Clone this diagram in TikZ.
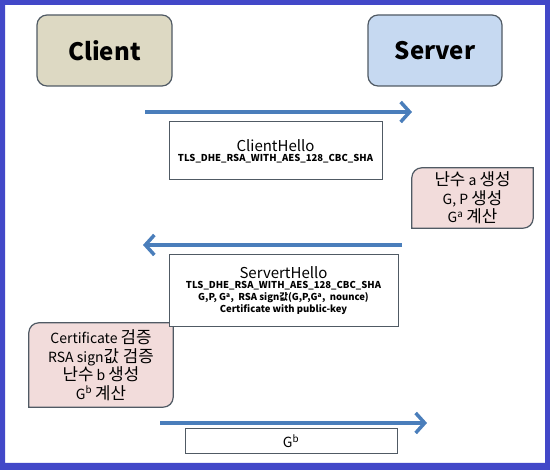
\documentclass[tikz,border=0pt]{standalone}
\usepackage{fontspec}
\setmainfont{Noto Sans CJK KR}
\newfontfamily\kr[Scale=1.2]{Noto Sans CJK KR}
\usetikzlibrary{arrows.meta, backgrounds}

\definecolor{frameblue}{RGB}{66,72,200}
\definecolor{clientfill}{RGB}{221,217,195}
\definecolor{serverfill}{RGB}{198,217,241}
\definecolor{notefill}{RGB}{242,220,219}
\definecolor{arrowblue}{RGB}{74,126,187}
\definecolor{edgegray}{RGB}{80,90,100}

\tikzset{
  party/.style={draw=edgegray, line width=1.2pt, rounded corners=10pt,
    minimum width=135pt, minimum height=71pt,
    font=\fontsize{24}{28}\selectfont\bfseries},
  msgbox/.style={draw=edgegray, line width=1pt, fill=white, align=center},
  note/.style={align=center, font=\fontsize{14}{18.5}\selectfont},
  flow/.style={arrowblue, line width=3.5pt, -{Straight Barb[length=9pt,width=20pt]}},
}

% pink box with two round corners (top left, bottom right)
\newcommand{\notebg}[1]{%
  \begin{scope}[on background layer]
    \draw[draw=edgegray, line width=1.2pt, fill=notefill]
      ([yshift=-10pt]#1.north west) arc[start angle=180, end angle=90, radius=10pt]
      -- (#1.north east) -- ([yshift=10pt]#1.south east)
      arc[start angle=0, end angle=-90, radius=10pt] -- (#1.south west) -- cycle;
  \end{scope}}

\newcommand{\msgdetail}{\fontsize{9.5}{11}\selectfont\bfseries}
\newcommand{\msgtitle}{\fontsize{15}{18}\selectfont}

\begin{document}
\begin{tikzpicture}[x=1pt, y=1pt]
    \fill[frameblue, even odd rule] (0,0) rectangle (550,470) (5,7) rectangle (545,465);
    \useasboundingbox (0,0) rectangle (550,470);

    \node[party, fill=clientfill] (client) at (104.5,419.5) {Client};
    \node[party, fill=serverfill, minimum width=134pt] (server) at (435,419.5) {Server};

    % ClientHello
    \coordinate (hello1 start) at (145,358);
    \coordinate (hello1 end) at (412,358);
    \draw[flow] (hello1 start) -- (hello1 end);
    \node[msgbox, minimum width=213pt, minimum height=58pt] (clienthello) at (275.5,319)
      {{\msgtitle ClientHello}\\[-2pt] {\msgdetail TLS\_DHE\_RSA\_WITH\_AES\_128\_CBC\_SHA}};

    \node[note, minimum width=121pt, minimum height=60pt] (servernote) at (472.5,272)
      {{\kr 난수} a {\kr 생성}\\ G, P {\kr 생성}\\ G\textsuperscript{a} {\kr 계산}};
    \notebg{servernote}

    % ServerHello
    \coordinate (hello2 start) at (402,225);
    \coordinate (hello2 end) at (143,225);
    \draw[flow] (hello2 start) -- (hello2 end);
    \node[msgbox, minimum width=229pt, minimum height=72pt] (serverhello) at (283.5,179)
      {{\msgtitle ServertHello}\\[-2pt] {\msgdetail TLS\_DHE\_RSA\_WITH\_AES\_128\_CBC\_SHA}\\
       {\msgdetail G,P, G\textsuperscript{a}, \ RSA sign값(G,P,G\textsuperscript{a}, \ nounce)}\\
       {\msgdetail Certificate with public-key}};

    \node[note, minimum width=144pt, minimum height=84pt] (clientnote) at (101,105)
      {Certificate {\kr 검증}\\ RSA sign{\kr 값 검증}\\ {\kr 난수} b {\kr 생성}\\ G\textsuperscript{b} {\kr 계산}};
    \notebg{clientnote}

    % key exchange
    \coordinate (key start) at (160,47);
    \coordinate (key end) at (427,47);
    \draw[flow] (key start) -- (key end);
    \node[msgbox, minimum width=212pt, minimum height=25pt, font=\fontsize{14}{16}\selectfont]
      (keybox) at (291,28.5) {G\textsuperscript{b}};
\end{tikzpicture}
\end{document}
